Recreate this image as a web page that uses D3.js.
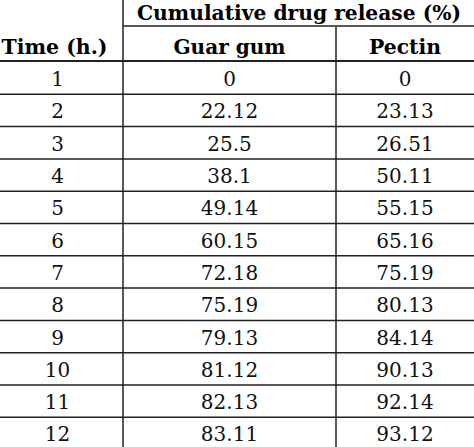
<!DOCTYPE html>
<html><head><meta charset="utf-8">
<script src="https://cdn.jsdelivr.net/npm/d3@7"></script>
<style>body{margin:0;background:#fff}</style></head>
<body><svg id="t" width="474" height="447"></svg>
<script>
const times = ["1","2","3","4","5","6","7","8","9","10","11","12"];
const guarGum = ["0","22.12","25.5","38.1","49.14","60.15","72.18","75.19","79.13","81.12","82.13","83.11"];
const pectin = ["0","23.13","26.51","50.11","55.15","65.16","75.19","80.13","84.14","90.13","92.14","93.12"];
const columns = ["Time (h.)", "Guar gum", "Pectin"];
const headerWidths = [106, 112, 72];

const svg = d3.select("#t");
const font = "'DejaVu Serif', serif";
const colEdges = [0, 123, 336, 474];
const x = i => (colEdges[i] + colEdges[i + 1]) / 2;
const y = d3.scaleBand().domain(times).range([62, 62 + 12 * 32.3]);

// grid lines
const line = (x1, y1, x2, y2, w) => svg.append("line")
  .attr("x1", x1).attr("y1", y1).attr("x2", x2).attr("y2", y2)
  .attr("stroke", "#222").attr("stroke-width", w || 1.5);

line(123, 0, 123, 447);
line(336, 27, 336, 447);
line(123, 26, 474, 26);
line(0, 61, 474, 61, 2);
times.forEach(t => line(0, y(t) + y.bandwidth(), 474, y(t) + y.bandwidth()));

// headers
svg.append("text").attr("x", 299).attr("y", 20).attr("text-anchor", "middle")
  .attr("font-family", font).attr("font-weight", "bold").attr("font-size", 20)
  .attr("textLength", 324).attr("lengthAdjust", "spacingAndGlyphs")
  .text("Cumulative drug release (%)");
columns.forEach((c, i) => svg.append("text")
  .attr("x", x(i) - (i === 0 ? 7 : 0)).attr("y", 54).attr("text-anchor", "middle")
  .attr("font-family", font).attr("font-weight", "bold").attr("font-size", 20)
  .attr("textLength", headerWidths[i]).attr("lengthAdjust", "spacingAndGlyphs")
  .text(c));

// body
const rows = times.map((t, i) => [t, guarGum[i], pectin[i]]);
svg.selectAll("g.row").data(rows).enter().append("g").attr("class", "row")
  .each(function (r, i) {
    d3.select(this).selectAll("text").data(r).enter().append("text")
      .attr("x", (d, j) => x(j) - (j === 0 ? 4 : 0))
      .attr("y", y(times[i]) + y.bandwidth() / 2 + 8)
      .attr("text-anchor", "middle")
      .attr("font-family", font).attr("font-size", 20)
      .attr("fill", "#111")
      .text(d => d);
  });
</script></body></html>
